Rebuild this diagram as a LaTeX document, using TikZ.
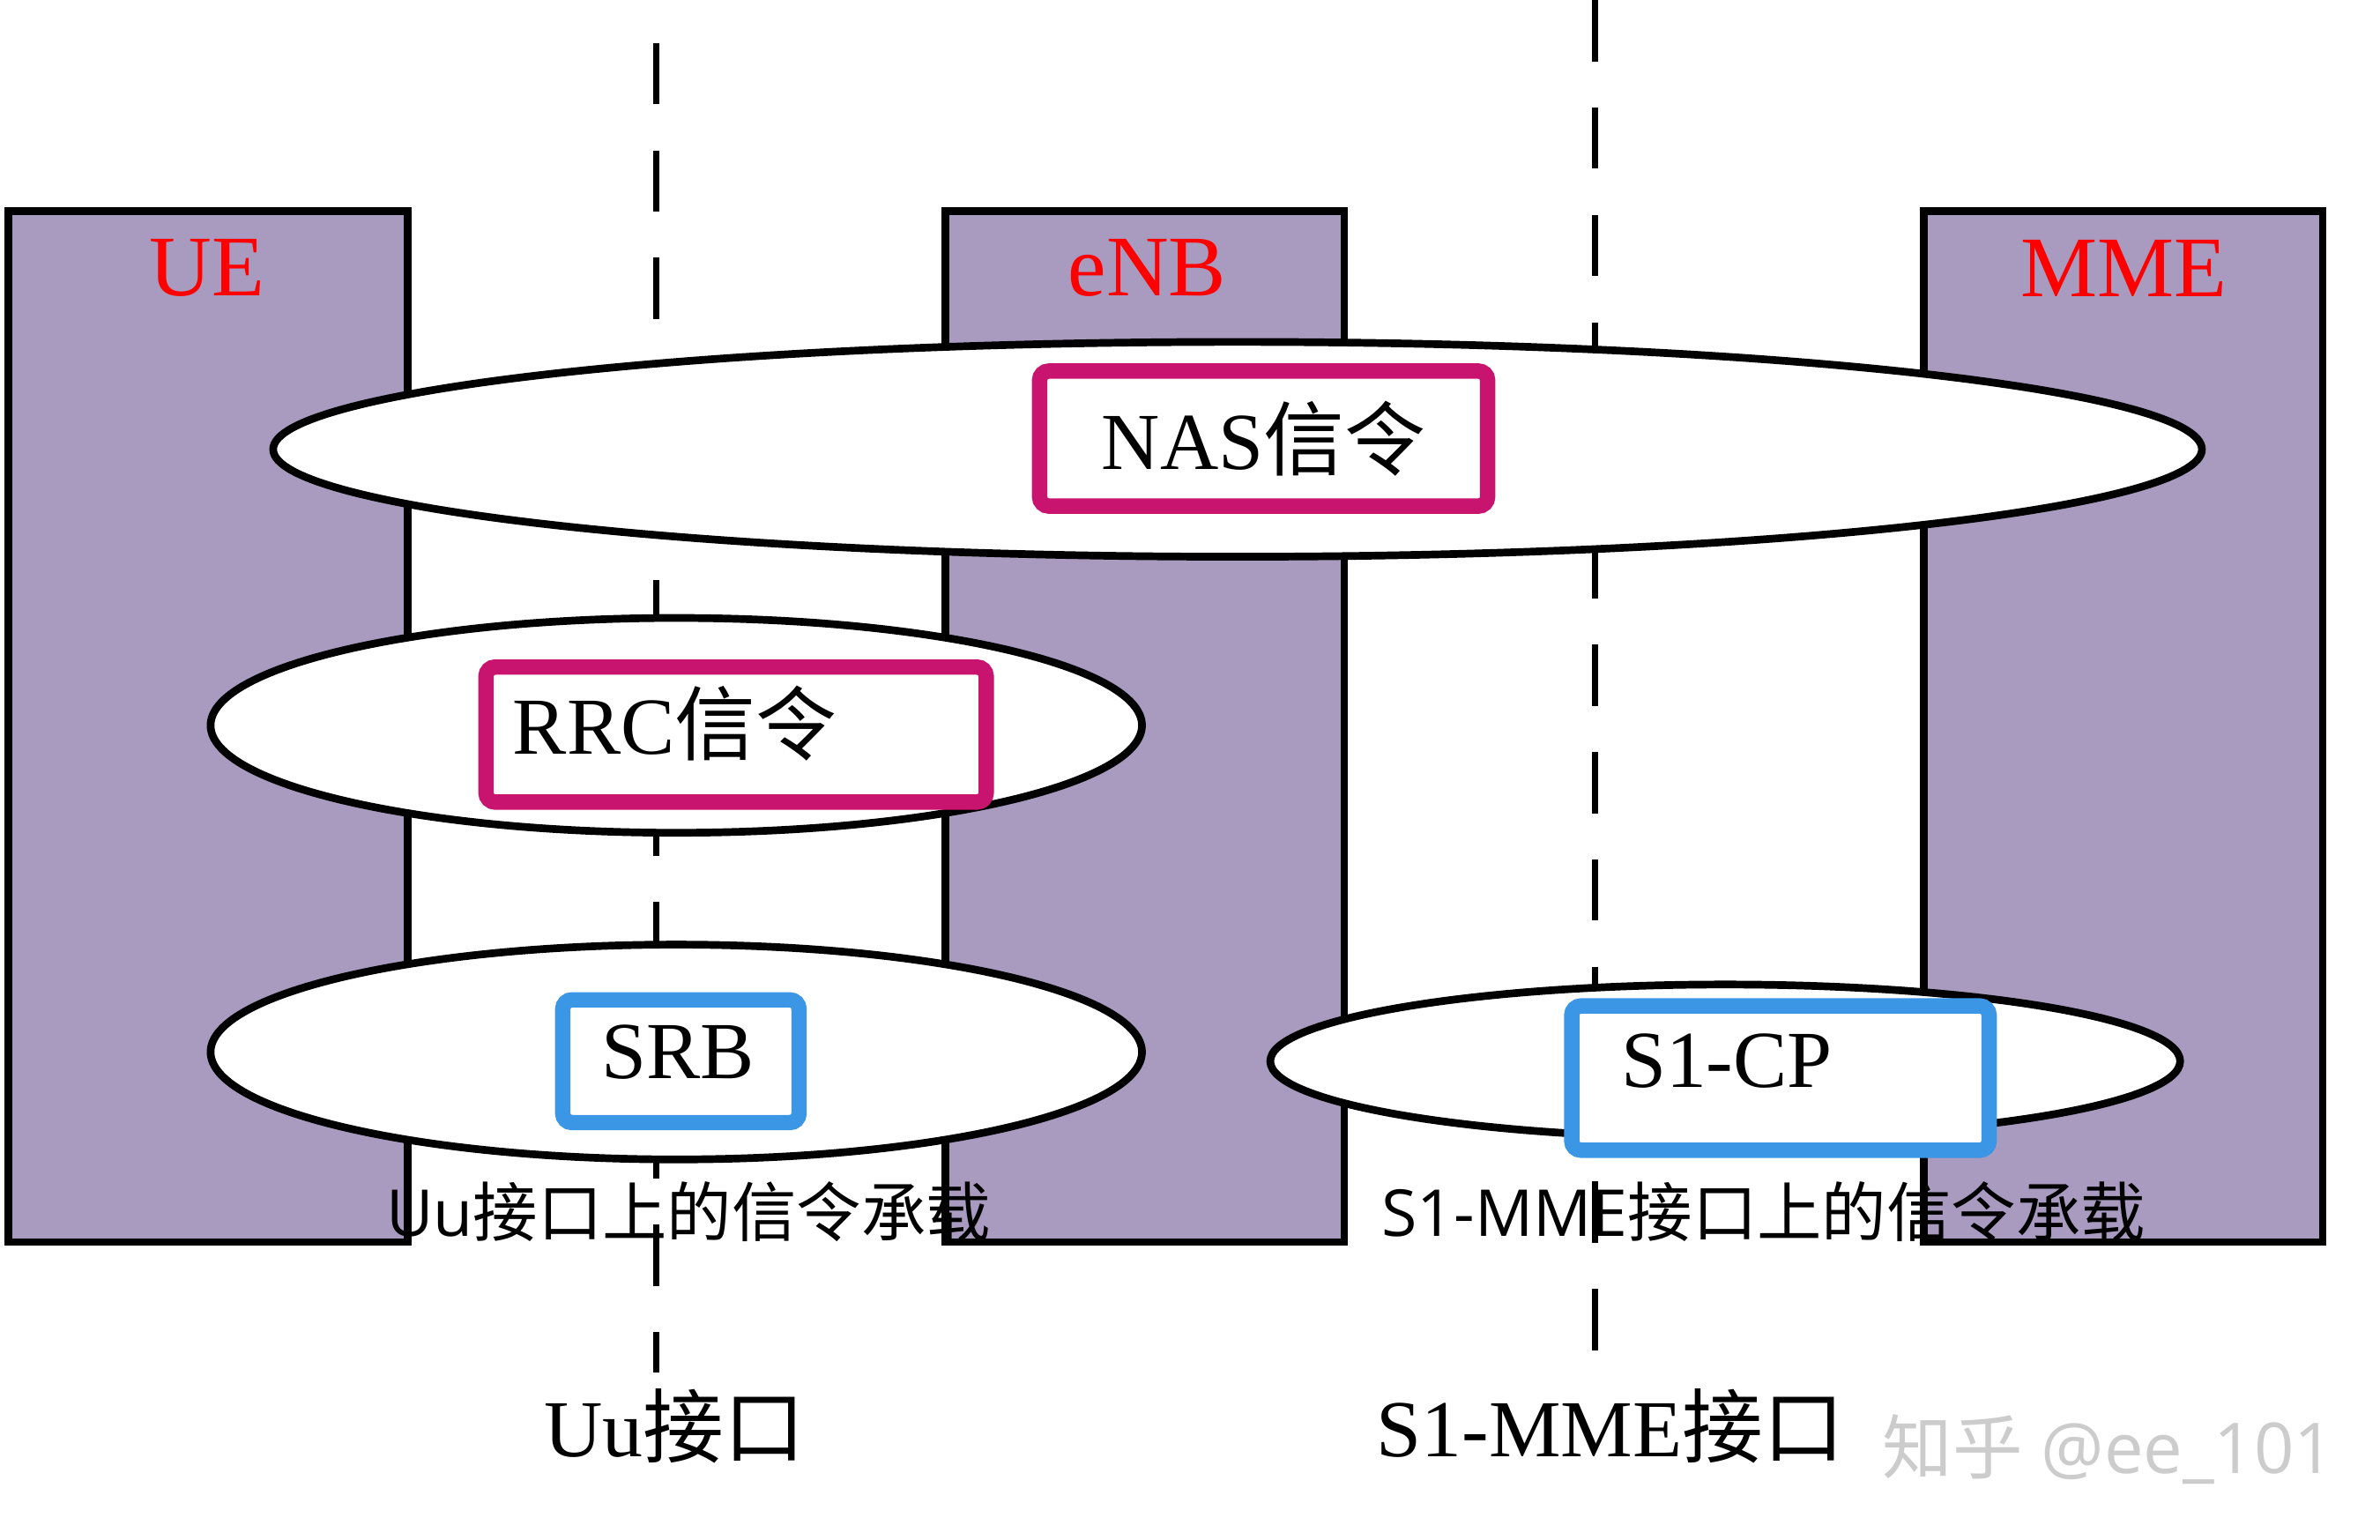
\documentclass[tikz,border=0pt]{standalone}
\usepackage{fontspec}
\setmainfont{Liberation Serif}
\newfontfamily\cjk{Noto Sans CJK SC}
\newfontfamily\sansf{Open Sans}
\usetikzlibrary{shapes.geometric}
\definecolor{boxpurple}{HTML}{A89BBF}
\definecolor{boxred}{HTML}{C8146E}
\definecolor{boxblue}{HTML}{3C96E6}
\begin{document}
\begin{tikzpicture}[x=0.01cm,y=-0.01cm,
    % 样式定义
    myblock/.style={draw=black, line width=0.5mm, fill=boxpurple},
    myellipse/.style={ellipse, draw=black, line width=0.5mm, fill=white, inner sep=0pt},
    mytitle/.style={text=red, font=\fontsize{16}{18}\selectfont},
    mybox/.style={draw=#1, line width=1mm, rounded corners=0.6mm, fill=white, inner sep=0pt},
    mylabel/.style={font=\fontsize{15}{17}\selectfont},
    mycn/.style={font=\sansf\fontsize{12}{14}\selectfont},
    mydash/.style={line width=0.4mm, dash pattern=on 4mm off 3mm}
]
    \useasboundingbox (0,0) rectangle (1552,1004);
    % 三个实体
    \node [myblock, minimum width=2.6cm, minimum height=6.72cm, anchor=north west] (ue) at (3,135) {};
    \node [myblock, minimum width=2.6cm, minimum height=6.72cm, anchor=north west] (enb) at (614,135) {};
    \node [myblock, minimum width=2.6cm, minimum height=6.72cm, anchor=north west] (mme) at (1252,135) {};
    \node [mytitle] at (135,175) {UE};
    \node [mytitle] at (748,175) {eNB};
    \node [mytitle] at (1385,175) {MME};

    % 接口虚线
    \coordinate (uutop) at (428,28);
    \coordinate (uubot) at (428,895);
    \coordinate (s1top) at (1040,0);
    \coordinate (s1bot) at (1040,890);
    \draw [mydash] (uutop) -- (uubot);
    \draw [mydash] (s1top) -- (s1bot);

    % 信令椭圆
    \node [myellipse, minimum width=12.57cm, minimum height=1.4cm] (nas) at (807,293) {};
    \node [mybox=boxred, minimum width=2.92cm, minimum height=0.88cm] (nasbox) at (824,286) {};
    \node [mylabel] at (nasbox) {NAS{\cjk 信令}};
    \node [myellipse, minimum width=6.07cm, minimum height=1.4cm] (rrc) at (441,473) {};
    \node [mybox=boxred, minimum width=3.26cm, minimum height=0.88cm] (rrcbox) at (480,479) {};
    \node [mylabel] at (440,472) {RRC{\cjk 信令}};
    \node [myellipse, minimum width=6.07cm, minimum height=1.4cm] (srb) at (441,686) {};
    \node [mybox=boxblue, minimum width=1.54cm, minimum height=0.8cm] (srbbox) at (444,692) {};
    \node [mylabel] at (442,686) {SRB};
    \node [myellipse, minimum width=5.93cm, minimum height=1.0cm] (s1cp) at (1125,692) {};
    \node [mybox=boxblue, minimum width=2.72cm, minimum height=0.94cm] (s1box) at (1161,703) {};
    \node [mylabel] at (1126,692) {S1-CP};

    % 文字说明
    \node [mycn] at (449,790) {Uu{\cjk 接口上的信令承载}};
    \node [mycn] at (1150,790) {S1-MME{\cjk 接口上的信令承载}};
    \node [mylabel] at (440,930) {Uu{\cjk 接口}};
    \node [mylabel] at (1050,930) {S1-MME{\cjk 接口}};
    \node [text=black!20, font=\sansf\fontsize{13}{15}\selectfont] at (1375,945) {{\cjk 知乎} @ee\_101};
\end{tikzpicture}
\end{document}
